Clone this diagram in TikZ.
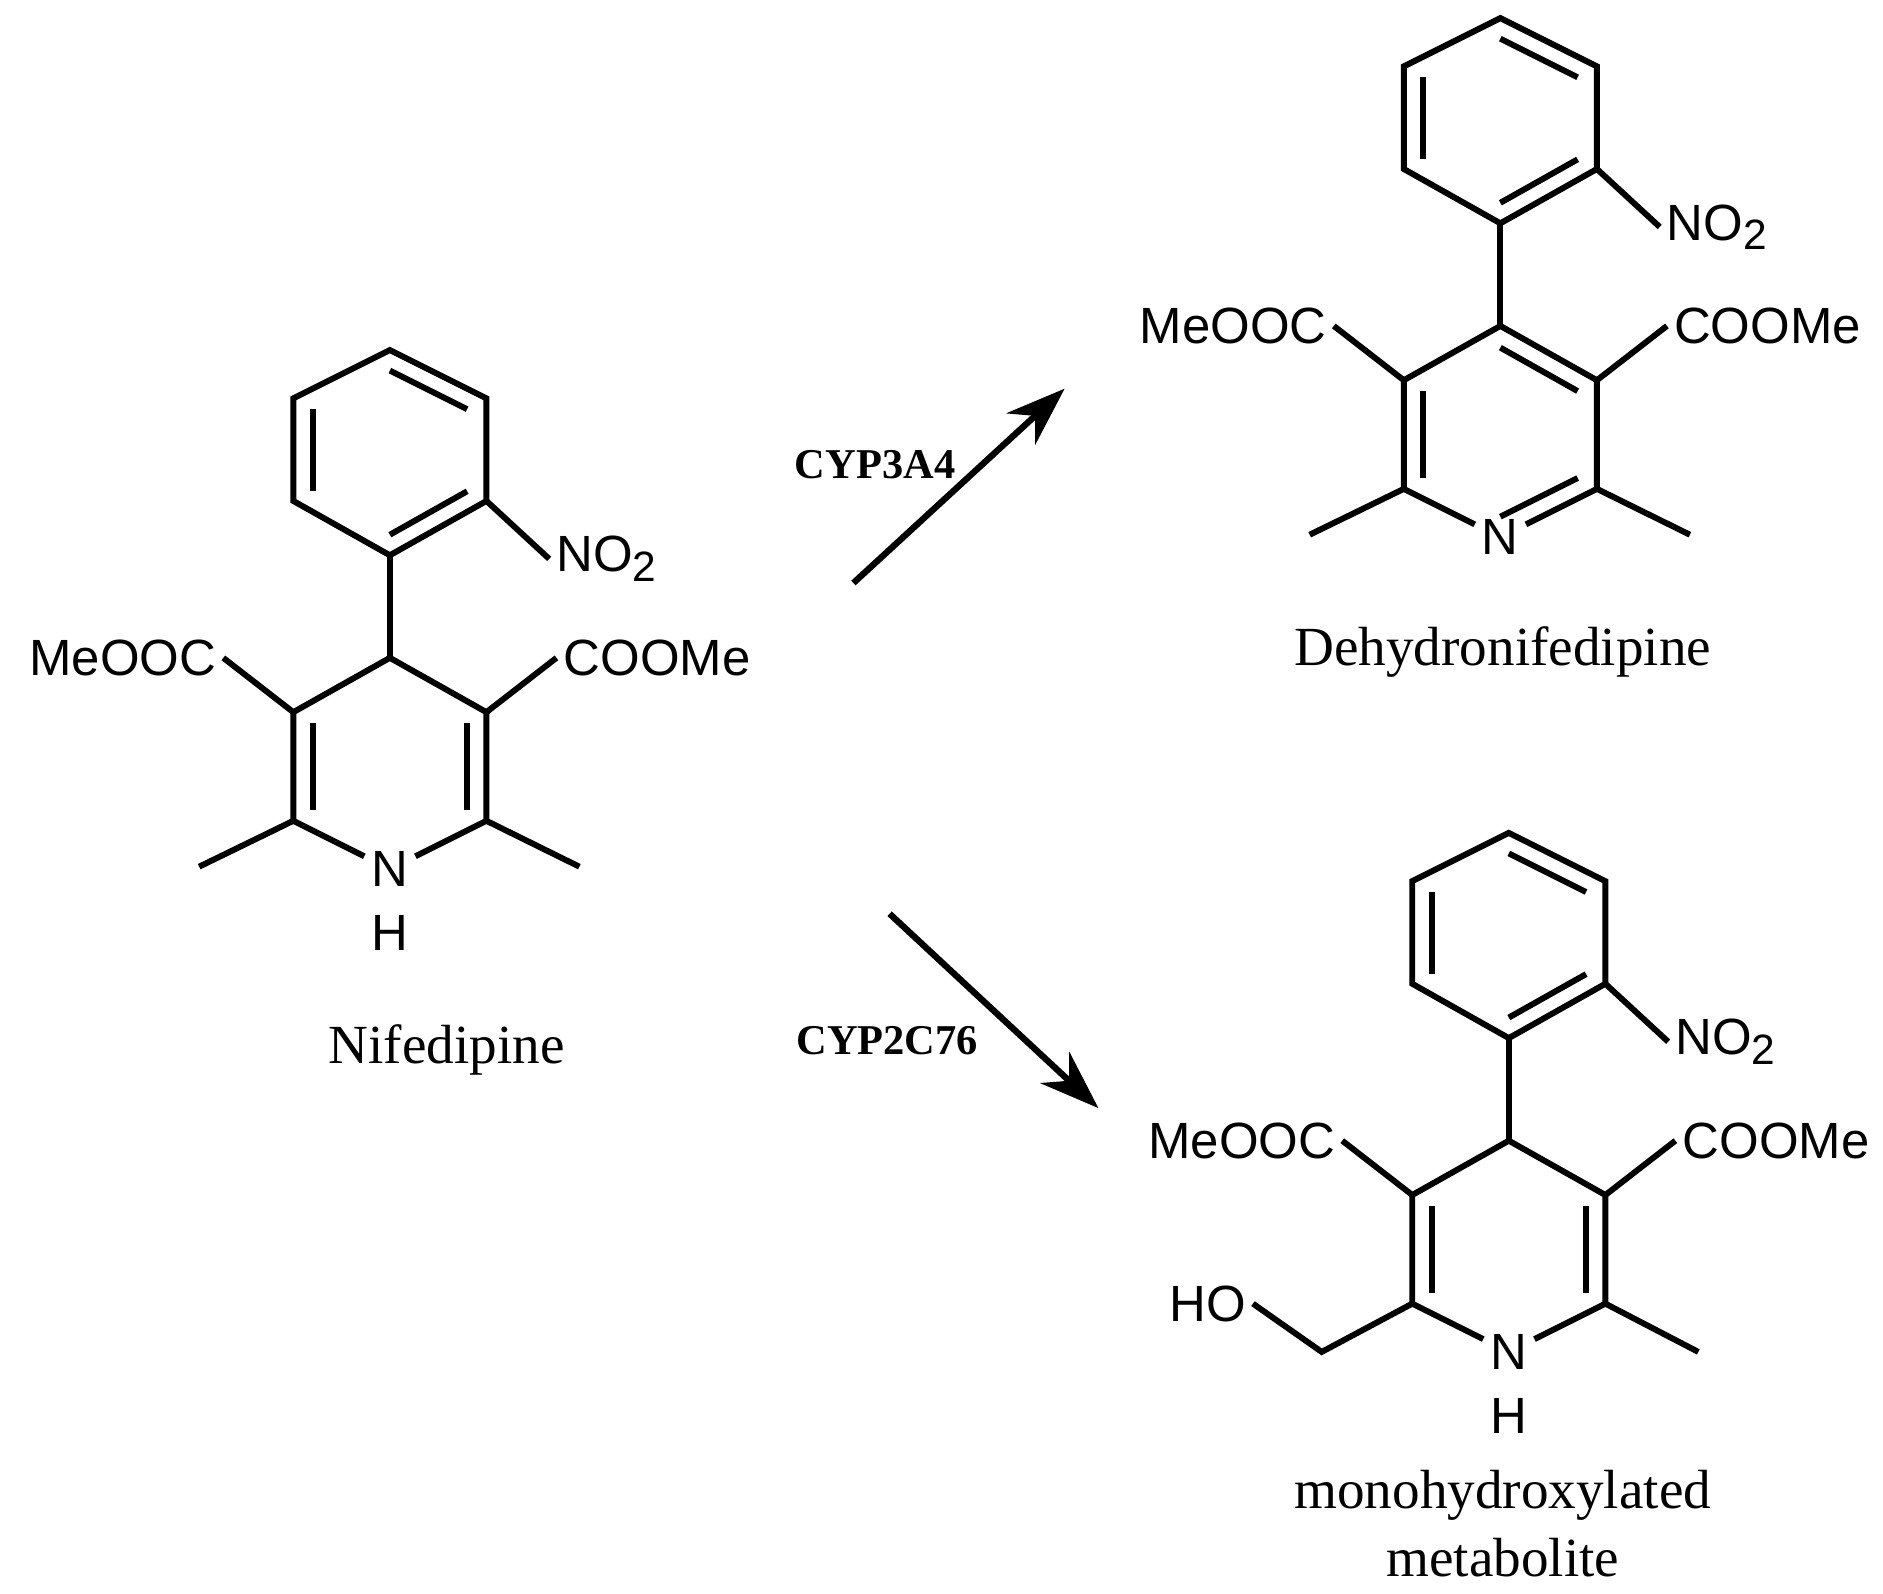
\documentclass[tikz,border=0pt]{standalone}
\usepackage{fontspec}
\setmainfont{Liberation Serif}
\newfontfamily\atomfont{Liberation Sans}
\usetikzlibrary{calc,arrows.meta}
\tikzset{bond/.style={line width=1.4pt},
  atom/.style={font=\atomfont\fontsize{12}{12}\selectfont, inner sep=1.5pt},
  caption/.style={font=\fontsize{13}{16}\selectfont, align=center},
  enzyme/.style={font=\bfseries\fontsize{10}{12}\selectfont},
  arrow/.style={line width=1.5pt,-{Stealth[length=14pt,width=10pt]}}}
\newcommand\subtwo{\raisebox{-0.35ex}{\fontsize{10}{10}\selectfont 2}}
% inner line of a double bond
\newcommand\dbl[3]{\draw[bond] ($(#1)!0.2!(#3)$) -- ($(#2)!0.2!(#3)$);}
% phenyl + six-membered ring, C4 at local origin
\newcommand\core[1]{
  \coordinate (#1p1) at (0,255);  \coordinate (#1p2) at (80,215);
  \coordinate (#1p3) at (80,130); \coordinate (#1p4) at (0,85);
  \coordinate (#1p5) at (-80,130); \coordinate (#1p6) at (-80,215);
  \coordinate (#1pc) at (0,170);
  \coordinate (#1c4) at (0,0);    \coordinate (#1c3) at (80,-45);
  \coordinate (#1c2) at (80,-135); \coordinate (#1c6) at (-80,-135);
  \coordinate (#1c5) at (-80,-45); \coordinate (#1rc) at (0,-90);
  \node[atom] (#1n) at (0,-175) {N};
  \node[atom,anchor=east] (#1e1) at (-138,0) {MeOOC};
  \node[atom,anchor=west] (#1e2) at (138,0) {COOMe};
  \node[atom,anchor=west] (#1no) at (132,82) {NO\subtwo};
  \draw[bond] (#1p1) -- (#1p2) -- (#1p3) -- (#1p4) -- (#1p5) -- (#1p6) -- cycle;
  \dbl{#1p1}{#1p2}{#1pc} \dbl{#1p3}{#1p4}{#1pc} \dbl{#1p5}{#1p6}{#1pc}
  \draw[bond] (#1p4) -- (#1c4);
  \draw[bond] (#1p3) -- (#1no.west);
  \draw[bond] (#1c5) -- (#1c4) -- (#1c3) -- (#1c2) -- (#1n) -- (#1c6) -- (#1c5);
  \draw[bond] (#1c5) -- (#1e1.east);
  \draw[bond] (#1c3) -- (#1e2.west);
  \dbl{#1c5}{#1c6}{#1rc}
}
\begin{document}
\begin{tikzpicture}[x=0.01cm,y=0.01cm]
\useasboundingbox (0,0) rectangle (1560,-1320);

% Nifedipine
\begin{scope}[shift={(323,-545)}]
  \core{a}
  \dbl{ac3}{ac2}{arc}
  \node[atom] (ah) at (0,-228) {H};
  \coordinate (am1) at (-158,-173); \coordinate (am2) at (157,-173);
  \draw[bond] (ac6) -- (am1); \draw[bond] (ac2) -- (am2);
\end{scope}
\node[caption] (nif) at (370,-870) {Nifedipine};

% Dehydronifedipine
\begin{scope}[shift={(1243,-270)}]
  \core{b}
  \dbl{bc4}{bc3}{brc} \dbl{bc2}{bn}{brc}
  \coordinate (bm1) at (-158,-173); \coordinate (bm2) at (157,-173);
  \draw[bond] (bc6) -- (bm1); \draw[bond] (bc2) -- (bm2);
\end{scope}
\node[caption] (dehyd) at (1245,-540) {Dehydronifedipine};

% monohydroxylated metabolite
\begin{scope}[shift={(1250,-945)}]
  \core{c}
  \dbl{cc3}{cc2}{crc}
  \node[atom] (ch) at (0,-228) {H};
  \coordinate (cch2) at (-155,-175); \coordinate (cm2) at (157,-175);
  \node[atom,anchor=east] (coh) at (-212,-135) {HO};
  \draw[bond] (cc6) -- (cch2) -- (coh.east); \draw[bond] (cc2) -- (cm2);
\end{scope}
\node[caption] (mono) at (1245,-1262) {monohydroxylated\\metabolite};

% reactions
\coordinate (r1s) at (707,-483); \coordinate (r1e) at (882,-322);
\coordinate (r2s) at (737,-757); \coordinate (r2e) at (910,-918);
\draw[arrow] (r1s) -- (r1e);
\draw[arrow] (r2s) -- (r2e);
\node[enzyme] (cyp1) at (725,-385) {CYP3A4};
\node[enzyme] (cyp2) at (735,-862) {CYP2C76};
\end{tikzpicture}
\end{document}
